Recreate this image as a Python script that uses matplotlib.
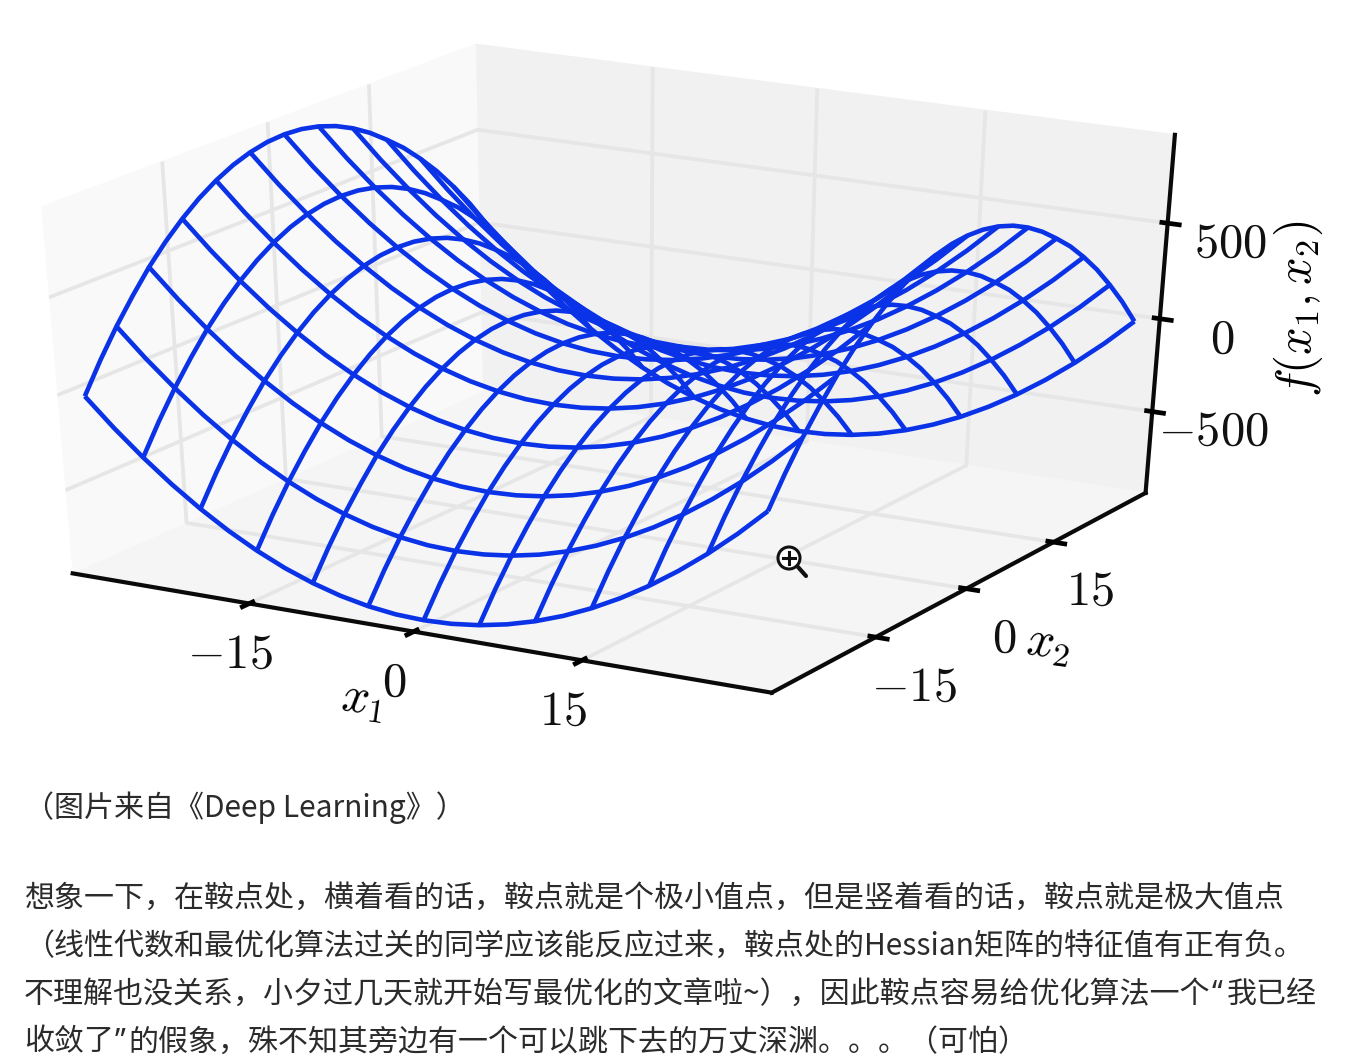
import numpy as np
import matplotlib
matplotlib.use("Agg")
import matplotlib.pyplot as plt
from mpl_toolkits.mplot3d import proj3d
from matplotlib.patches import Circle

# ---- data -----------------------------------------------------------
x1_values = [-30, -27.5, -25, -22.5, -20, -17.5, -15, -12.5, -10, -7.5, -5, -2.5, 0,
             2.5, 5, 7.5, 10, 12.5, 15, 17.5, 20, 22.5, 25, 27.5, 30]
x2_values = [-30, -27.5, -25, -22.5, -20, -17.5, -15, -12.5, -10, -7.5, -5, -2.5, 0,
             2.5, 5, 7.5, 10, 12.5, 15, 17.5, 20, 22.5, 25, 27.5, 30]
# height gained along x1 and lost along x2 (edge profiles of the surface)
rise_along_x1 = [900, 756, 625, 506, 400, 306, 225, 156, 100, 56, 25, 6, 0,
                 6, 24, 54, 96, 150, 216, 294, 384, 486, 600, 726, 865]
drop_along_x2 = [915, 765, 630, 510, 400, 306, 225, 156, 100, 56, 25, 6, 0,
                 6, 25, 56, 100, 156, 225, 300, 390, 490, 605, 730, 870]
x_ticks = [-15, 0, 15]
z_ticks = [-500, 0, 500]
x_ticklabels = ['$-15$', '$0$', '$15$']
z_ticklabels = ['$-500$', '$0$', '$500$']
caption = '（图片来自《Deep Learning》）'
paragraph = [
    '想象一下，在鞍点处，横着看的话，鞍点就是个极小值点，但是竖着看的话，鞍点就是极大值点',
    '（线性代数和最优化算法过关的同学应该能反应过来，鞍点处的Hessian矩阵的特征值有正有负。',
    '不理解也没关系，小夕过几天就开始写最优化的文章啦~），因此鞍点容易给优化算法一个',
    '收敛了',
]
quoted_open = '我已经'
quoted_close = '的假象，殊不知其旁边有一个可以跳下去的万丈深渊。。。（可怕）'
# ---------------------------------------------------------------------

W, H = 1354, 1056
plt.rcParams['mathtext.fontset'] = 'cm'
plt.rcParams['grid.color'] = '#e6e6e6'
plt.rcParams['grid.linewidth'] = 2.7
plt.rcParams['axes.linewidth'] = 3.0
plt.rcParams['axes.edgecolor'] = '#0a0a0a'
plt.rcParams['xtick.major.width'] = 3.4
plt.rcParams['ytick.major.width'] = 3.4

fig = plt.figure(figsize=(W / 100, H / 100), dpi=100, facecolor='white')
ax = fig.add_axes([0.1, 0.3, 0.8, 0.6], projection='3d', facecolor='none')
ax.view_init(elev=30, azim=-60)
ax.set_box_aspect((1, 1, 1))
ax.set_xlim(-31.5, 31.5, view_margin=0)
ax.set_ylim(-31.5, 31.5, view_margin=0)
ax.set_zlim(-950, 950, view_margin=0)

# Fit the (non square) panel so that the box corners land where they are in the picture
ax.M = ax.get_proj()
corners = [(-1, -1, -1, 70, 573), (1, -1, -1, 770, 692), (1, 1, -1, 1147, 495),
           (1, 1, 1, 1175, 135), (-1, 1, 1, 475, 45), (-1, -1, 1, 45, 205)]
xs, ys, _ = proj3d.proj_transform(np.array([c[0] * 31.5 for c in corners]),
                                  np.array([c[1] * 31.5 for c in corners]),
                                  np.array([c[2] * 950 for c in corners]), ax.M)
frac = ax.transAxes.inverted().transform(ax.transData.transform(np.c_[xs, ys]))
px = np.array([c[3] for c in corners], float)
py = H - np.array([c[4] for c in corners], float)
wpx, lpx = np.polyfit(frac[:, 0], px, 1)
hpx, bpx = np.polyfit(frac[:, 1], py, 1)
rect = [lpx / W, bpx / H, wpx / W, hpx / H]
ax.set_position(rect)
ax.apply_aspect = lambda position=None: ax._set_position(rect, 'active')

X2, X1 = np.meshgrid(x2_values, x1_values)
Z = np.add.outer(np.array(rise_along_x1, float), -np.array(drop_along_x2, float))
ax.plot_wireframe(X1, X2, Z, rstride=2, cstride=2, color='#0a32e6', linewidth=3.3)

ax.xaxis.set_pane_color('#f9f9f9')
ax.yaxis.set_pane_color('#f1f1f1')
ax.zaxis.set_pane_color('#f5f5f5')
ax.xaxis.pane.set_edgecolor('#f9f9f9')
ax.yaxis.pane.set_edgecolor('#f1f1f1')
ax.zaxis.pane.set_edgecolor('#f5f5f5')

tick_fs = 35
ax.set_xticks(x_ticks, x_ticklabels, fontsize=tick_fs, color='#111111')
ax.set_yticks(x_ticks, x_ticklabels, fontsize=tick_fs, color='#111111')
ax.set_zticks(z_ticks, z_ticklabels, fontsize=tick_fs, color='#111111')
ax.tick_params(axis='x', pad=10)
ax.tick_params(axis='y', pad=13)
ax.tick_params(axis='z', pad=14.5)

ax.xaxis.set_rotate_label(False)
ax.yaxis.set_rotate_label(False)
ax.zaxis.set_rotate_label(False)
ax.set_xlabel('$x_1$', fontsize=35, labelpad=26, rotation=-8)
ax.set_ylabel('$x_2$', fontsize=35, labelpad=25, rotation=-8)
ax.set_zlabel('$f(x_1,x_2)$', fontsize=35, labelpad=29.5, rotation=90)

# overlay in pixel coordinates for the surrounding page text and the cursor
ov = fig.add_axes([0, 0, 1, 1], facecolor='none')
ov.set_xlim(0, W)
ov.set_ylim(H, 0)
ov.axis('off')
cjk = ['Noto Sans CJK SC', 'DejaVu Sans']
def page_text(x, y, s, family=cjk):
    ov.text(x, y, s, family=family, fontsize=21.6, color='#2b2b2b', va='center', ha='left')
page_text(24, 808, caption)
for yy, line in zip([898, 946, 994, 1042], paragraph):
    page_text(24, yy, line)
page_text(1212, 994, '“', family='Noto Sans')
page_text(1227, 994, quoted_open)
page_text(115, 1042, '”', family='Noto Sans')
page_text(128, 1042, quoted_close)
ov.plot([798, 806], [567, 576], color='#111111', lw=3, solid_capstyle='round')
ov.add_patch(Circle((789, 558), 11, facecolor='white', edgecolor='#111111', lw=2.2))
ov.plot([783, 795], [558, 558], color='#111111', lw=2.2)
ov.plot([789, 789], [552, 564], color='#111111', lw=2.2)

fig.savefig('out.png', dpi=100, facecolor='white')
